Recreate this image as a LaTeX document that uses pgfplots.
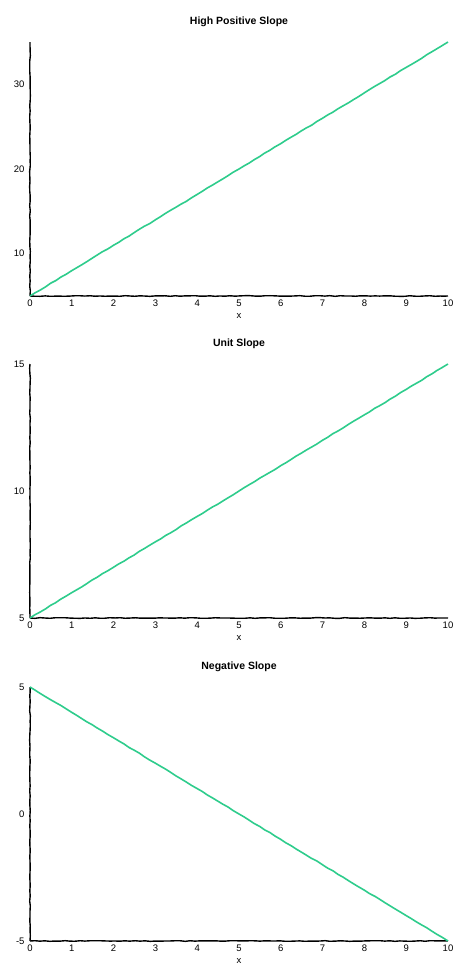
\documentclass[border=0pt]{standalone}
\usepackage{fontspec}
\setmainfont{Liberation Sans}
\usepackage{pgfplots}
\pgfplotsset{compat=1.18}
\usetikzlibrary{decorations.pathmorphing}
\definecolor{linec}{RGB}{46,204,140}
\pgfplotsset{xk/.style={
  scale only axis, width=418pt, height=254pt,
  anchor=north west,
  axis lines=left,
  axis line style={-, line width=1.4pt, black, decorate,
     decoration={random steps, segment length=5pt, amplitude=0.35pt}},
  xmin=0, xmax=10, xtick={0,...,10},
  major tick length=0pt,
  tick label style={font=\fontsize{9.5}{10}\selectfont},
  yticklabel style={xshift=-2pt},
  /pgf/number format/assume math mode=true,
  xlabel={x},
  xlabel style={font=\fontsize{9.5}{10}\selectfont, at={(0.5,0)}, anchor=base, yshift=-22.5pt},
  title style={font=\bfseries\fontsize{10.5}{12}\selectfont, at={(0.5,1)}, anchor=base, yshift=12pt},
  clip=false,
}}
\begin{document}
\begin{tikzpicture}
\useasboundingbox (0,0) rectangle (474pt,-964pt);
\begin{axis}[xk, at={(30pt,-42pt)}, ymin=5, ymax=35, ytick={10,20,30},
  title={High Positive Slope}]
\addplot[linec, line width=1.6pt, decorate, decoration={random steps, segment length=6pt, amplitude=0.3pt}]
 coordinates {(0,5) (1,8) (2,11) (3,14) (4,17) (5,20) (6,23) (7,26) (8,29) (9,32) (10,35)};
\end{axis}
\begin{axis}[xk, at={(30pt,-364pt)}, ymin=5, ymax=15, ytick={5,10,15},
  title={Unit Slope}]
\addplot[linec, line width=1.6pt, decorate, decoration={random steps, segment length=6pt, amplitude=0.3pt}]
 coordinates {(0,5) (1,6) (2,7) (3,8) (4,9) (5,10) (6,11) (7,12) (8,13) (9,14) (10,15)};
\end{axis}
\begin{axis}[xk, at={(30pt,-687pt)}, ymin=-5, ymax=5, ytick={-5,0,5},
  title={Negative Slope}]
\addplot[linec, line width=1.6pt, decorate, decoration={random steps, segment length=6pt, amplitude=0.3pt}]
 coordinates {(0,5) (1,4) (2,3) (3,2) (4,1) (5,0) (6,-1) (7,-2) (8,-3) (9,-4) (10,-5)};
\end{axis}
\end{tikzpicture}
\end{document}
